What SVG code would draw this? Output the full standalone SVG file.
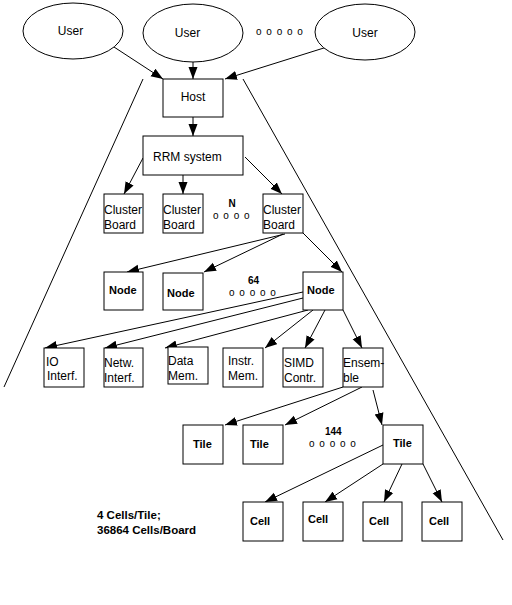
<svg xmlns="http://www.w3.org/2000/svg" width="512" height="605" viewBox="0 0 512 605">
<defs>
<marker id="ah" markerUnits="userSpaceOnUse" markerWidth="13" markerHeight="10" refX="12" refY="5" orient="auto"><path d="M0,0.5 L12,5 L0,9.5 Z" fill="#000"/></marker>
<style>
.b{fill:#fff;stroke:#000;stroke-width:1}
.t{font-family:"Liberation Sans",Arial,sans-serif;font-size:12px;fill:#000}
.tb{font-family:"Liberation Sans",Arial,sans-serif;font-size:11px;font-weight:bold;fill:#000}
.n{font-family:"Liberation Sans",Arial,sans-serif;font-size:10px;font-weight:bold;fill:#000}
.d{font-family:"Liberation Sans",Arial,sans-serif;font-size:10px;letter-spacing:1px;fill:#000}
.c{text-anchor:middle}
.l{fill:none;stroke:#000;stroke-width:1}
.a{fill:none;stroke:#000;stroke-width:1;marker-end:url(#ah)}
</style>
</defs>
<rect width="512" height="605" fill="#fff"/>
<g id="scope"><path class="l" d="M143,79 L4,387"/><path class="l" d="M243,79 L503,540"/></g>
<g id="connectors">
<path class="a" d="M114,47 L163,79"/>
<path class="a" d="M193,58 L193,79"/>
<path class="a" d="M327,47 L225,79"/>
<path class="a" d="M193,117 L193,136"/>
<path class="a" d="M143,158 L124,194"/>
<path class="a" d="M183,175 L183,194"/>
<path class="a" d="M245,157 L282,194"/>
<path class="a" d="M285,234 L127,272"/>
<path class="a" d="M283,234 L204,272"/>
<path class="a" d="M303,233 L342,272"/>
<path class="a" d="M303,292 L45,348"/>
<path class="a" d="M303,298 L105,348"/>
<path class="a" d="M308,310 L165,348"/>
<path class="a" d="M313,310 L265,348"/>
<path class="a" d="M325,310 L305,348"/>
<path class="a" d="M343,310 L362,348"/>
<path class="a" d="M343,387 L225,425"/>
<path class="a" d="M362,387 L285,425"/>
<path class="a" d="M373,390 L382,425"/>
<path class="a" d="M383,445 L265,502"/>
<path class="a" d="M383,464 L325,502"/>
<path class="a" d="M402,464 L384,502"/>
<path class="a" d="M423,464 L442,502"/>
</g>
<g id="user1"><ellipse class="b" cx="73" cy="31" rx="50" ry="28"/><text class="t c" x="70.5" y="35">User</text></g>
<g id="user2"><ellipse class="b" cx="193" cy="33" rx="50" ry="29"/><text class="t c" x="187.5" y="37">User</text></g>
<g id="user3"><ellipse class="b" cx="365" cy="32" rx="50" ry="28"/><text class="t c" x="365" y="37">User</text></g>
<text class="d" x="256" y="35">o o o o o</text>
<g id="host"><rect class="b" x="163" y="79" width="60" height="38"/><text class="t c" x="193" y="101">Host</text></g>
<g id="rrm"><rect class="b" x="143" y="136" width="100" height="39"/><text class="t" x="153" y="161">RRM system</text></g>
<g id="cb1"><rect class="b" x="104" y="194" width="39" height="39"/><text class="t" x="104" y="214">Cluster</text><text class="t" x="104" y="229">Board</text></g>
<g id="cb2"><rect class="b" x="163" y="194" width="40" height="39"/><text class="t" x="163" y="214">Cluster</text><text class="t" x="163" y="229">Board</text></g>
<g id="cb3"><rect class="b" x="263" y="194" width="40" height="39"/><text class="t" x="263" y="214">Cluster</text><text class="t" x="263" y="229">Board</text></g>
<text class="n c" x="232" y="207">N</text>
<text class="d" x="213" y="219">o o o o</text>
<g id="node1"><rect class="b" x="104" y="272" width="39" height="38"/><text class="tb" x="109" y="294">Node</text></g>
<g id="node2"><rect class="b" x="163" y="273" width="40" height="37"/><text class="tb" x="167" y="297">Node</text></g>
<g id="node3"><rect class="b" x="303" y="272" width="40" height="38"/><text class="tb" x="307" y="294">Node</text></g>
<text class="n" x="248" y="284">64</text>
<text class="d" x="229" y="296">o o o o o</text>
<g id="io"><rect class="b" x="44" y="348" width="40" height="39"/><text class="t" x="46" y="366">IO</text><text class="t" x="47" y="380">Interf.</text></g>
<g id="netw"><rect class="b" x="104" y="348" width="39" height="39"/><text class="t" x="104" y="367">Netw.</text><text class="t" x="104" y="382">Interf.</text></g>
<g id="data"><rect class="b" x="168" y="347" width="40" height="37"/><text class="t" x="168" y="365">Data</text><text class="t" x="168" y="380">Mem.</text></g>
<g id="instr"><rect class="b" x="223" y="348" width="40" height="39"/><text class="t" x="228" y="365">Instr.</text><text class="t" x="228" y="380">Mem.</text></g>
<g id="simd"><rect class="b" x="283" y="348" width="40" height="39"/><text class="t" x="284" y="367">SIMD</text><text class="t" x="284" y="382">Contr.</text></g>
<g id="ensemble"><rect class="b" x="343" y="348" width="40" height="39"/><text class="t" x="343" y="367">Ensem-</text><text class="t" x="343" y="382">ble</text></g>
<g id="tile1"><rect class="b" x="183" y="425" width="40" height="39"/><text class="tb" x="193" y="448">Tile</text></g>
<g id="tile2"><rect class="b" x="243" y="425" width="40" height="39"/><text class="tb" x="250" y="448">Tile</text></g>
<g id="tile3"><rect class="b" x="383" y="425" width="40" height="39"/><text class="tb" x="393" y="447">Tile</text></g>
<text class="n" x="325" y="435">144</text>
<text class="d" x="309" y="447">o o o o o</text>
<g id="cell1"><rect class="b" x="243" y="502" width="40" height="39"/><text class="tb" x="250" y="525">Cell</text></g>
<g id="cell2"><rect class="b" x="303" y="502" width="40" height="39"/><text class="tb" x="308" y="523">Cell</text></g>
<g id="cell3"><rect class="b" x="363" y="502" width="39" height="39"/><text class="tb" x="369" y="525">Cell</text></g>
<g id="cell4"><rect class="b" x="422" y="502" width="40" height="39"/><text class="tb" x="429" y="525">Cell</text></g>
<g id="note"><text class="tb" x="97" y="519" style="font-size:11.5px">4 Cells/Tile;</text><text class="tb" x="97" y="534" style="font-size:11.5px">36864 Cells/Board</text></g>
</svg>
